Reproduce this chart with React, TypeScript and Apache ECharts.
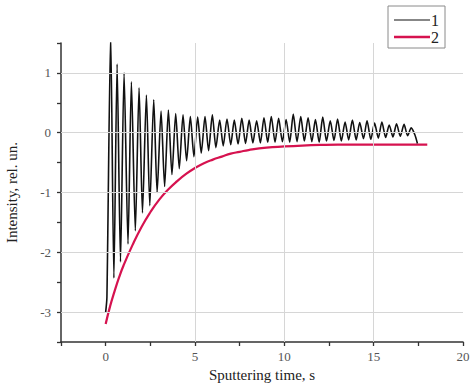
import React, { useEffect, useRef } from "react";
import * as echarts from "echarts";

// Curve 1 (black, oscillating)
const blackX = [
  0, 0.07,
  0.28, 0.46, 0.64, 0.83, 1.03, 1.25, 1.44, 1.66, 1.87, 2.06, 2.28, 2.47, 2.69, 2.88,
  3.1, 3.3, 3.51, 3.71, 3.92, 4.12, 4.33, 4.53, 4.74, 4.94, 5.15, 5.35, 5.56, 5.76,
  5.97, 6.17, 6.38, 6.58, 6.79, 7.0, 7.2, 7.41, 7.62, 7.83, 8.03, 8.24, 8.45, 8.66,
  8.86, 9.07, 9.27, 9.48, 9.68, 9.89, 10.1, 10.3, 10.5, 10.71, 10.92, 11.12, 11.33, 11.54,
  11.74, 11.95, 12.15, 12.36, 12.57, 12.78, 12.98, 13.19, 13.4, 13.6, 13.81, 14.02, 14.22, 14.43,
  14.63, 14.84, 15.05, 15.26, 15.46, 15.67, 15.87, 16.08, 16.28, 16.49, 16.7, 16.9, 17.1,
  17.3, 17.45,
];
const blackY = [
  -3.0, -2.75,
  1.65, -2.43, 1.15, -2.16, 1.0, -1.86, 0.85, -1.64, 0.75, -1.34, 0.63, -1.22, 0.55, -1.0,
  0.36, -0.9, 0.38, -0.7, 0.32, -0.6, 0.3, -0.47, 0.27, -0.4, 0.26, -0.34, 0.27, -0.3,
  0.3, -0.25, 0.21, -0.22, 0.23, -0.2, 0.21, -0.19, 0.24, -0.18, 0.21, -0.17, 0.2, -0.17,
  0.25, -0.16, 0.27, -0.16, 0.24, -0.15, 0.22, -0.16, 0.31, -0.15, 0.27, -0.14, 0.25, -0.15,
  0.22, -0.16, 0.26, -0.14, 0.2, -0.13, 0.23, -0.14, 0.18, -0.12, 0.21, -0.12, 0.17, -0.1,
  0.2, -0.11, 0.16, -0.09, 0.18, -0.08, 0.13, -0.07, 0.15, -0.06, 0.14, -0.05, 0.08,
  -0.03, -0.18,
];

// Curve 2 (red, exponential envelope)
const redX = [0, 0.25, 0.5, 0.75, 1, 1.5, 2, 2.5, 3, 3.5, 4, 4.5, 5, 5.5, 6, 6.5, 7, 7.5, 8, 9, 10, 11, 12, 13, 14, 15, 16, 17, 18];
const redY = [
  -3.2, -2.9, -2.65, -2.42, -2.22, -1.88, -1.58, -1.33, -1.12, -0.95, -0.81, -0.69, -0.59, -0.51,
  -0.45, -0.4, -0.35, -0.32, -0.29, -0.25, -0.23, -0.215, -0.205, -0.2, -0.2, -0.2, -0.2, -0.2, -0.2,
];

const xGridValues = [5, 10, 15];
const yGridValues = [1, 0, -1, -2, -3];
const xLabelValues = [0, 5, 10, 15, 20];
const yLabelValues = [-3, -2, -1, 0, 1];

const FONT = "'Liberation Serif', 'Times New Roman', serif";
const BLACK = "#111111";
const RED = "#d6124f";

export default function App() {
  const ref = useRef<HTMLDivElement>(null);
  useEffect(() => {
    if (!ref.current) return;
    const chart = echarts.init(ref.current, undefined, { renderer: "svg" });
    const black = blackX.map((x, i) => [x, blackY[i]]);
    const red = redX.map((x, i) => [x, redY[i]]);
    chart.setOption({
      animation: false,
      backgroundColor: "#ffffff",
      textStyle: { fontFamily: FONT },
      grid: { left: 61, right: 11, top: 43, bottom: 50, containLabel: false, outerBoundsMode: "none" },
      legend: {
        data: [
          { name: "1", icon: "path://M0,0L0,14M0,6.5H36V7.5H0Z", itemStyle: { color: BLACK, borderWidth: 0 } },
          { name: "2", icon: "path://M0,0L0,14M0,5.8H36V8.2H0Z", itemStyle: { color: RED, borderWidth: 0 } },
        ],
        orient: "vertical",
        left: 388,
        top: 6,
        padding: [6, 6, 3, 6],
        itemGap: 1,
        itemWidth: 36,
        itemHeight: 14,
        borderColor: "#8a8a8a",
        borderWidth: 1,
        textStyle: { fontFamily: FONT, fontSize: 16, color: "#222", padding: [0, 0, 0, -4] },
      },
      xAxis: {
        type: "value",
        min: -2.5,
        max: 20,
        interval: 2.5,
        name: "Sputtering time, s",
        nameLocation: "middle",
        nameGap: 24,
        nameTextStyle: { fontFamily: FONT, fontSize: 15, color: "#222" },
        axisLine: { onZero: false, lineStyle: { color: "#333", width: 1.5 } },
        axisTick: { show: true, length: 4, inside: false, lineStyle: { color: "#333", width: 1.3 } },
        axisLabel: {
          fontFamily: FONT,
          fontSize: 13,
          color: "#555",
          margin: 8,
          formatter: (v: number) => (xLabelValues.indexOf(v) >= 0 ? String(v) : ""),
        },
        splitLine: { show: false },
      },
      yAxis: {
        type: "value",
        min: -3.5,
        max: 1.5,
        interval: 0.5,
        name: "Intensity, rel. un.",
        nameLocation: "middle",
        nameGap: 42,
        nameTextStyle: { fontFamily: FONT, fontSize: 15, color: "#222" },
        axisLine: { show: true, onZero: false, lineStyle: { color: "#333", width: 1.5 } },
        axisTick: { show: true, length: 4, inside: false, lineStyle: { color: "#333", width: 1.3 } },
        axisLabel: {
          fontFamily: FONT,
          fontSize: 13,
          color: "#555",
          margin: 10,
          formatter: (v: number) => (yLabelValues.indexOf(v) >= 0 ? String(v) : ""),
        },
        splitLine: { show: false },
      },
      series: [
        {
          name: "grid",
          type: "line",
          data: [],
          z: 1,
          silent: true,
          markLine: {
            silent: true,
            symbol: "none",
            label: { show: false },
            lineStyle: { color: "#d6d6d6", type: "solid", width: 1 },
            data: [
              ...xGridValues.map((v) => ({ xAxis: v })),
              ...yGridValues.map((v) => ({ yAxis: v })),
            ],
          },
        },
        {
          name: "2",
          type: "line",
          data: red,
          z: 2,
          symbol: "none",
          smooth: true,
          lineStyle: { color: RED, width: 2.2 },
          itemStyle: { color: RED },
        },
        {
          name: "1",
          type: "line",
          data: black,
          z: 3,
          symbol: "none",
          smooth: 0.25,
          clip: true,
          lineStyle: { color: BLACK, width: 1.6 },
          itemStyle: { color: BLACK },
        },
      ],
    });
    return () => chart.dispose();
  }, []);
  return (
    <div
      ref={ref}
      style={{ position: "fixed", left: 0, top: 0, width: 474, height: 392 }}
    />
  );
}
